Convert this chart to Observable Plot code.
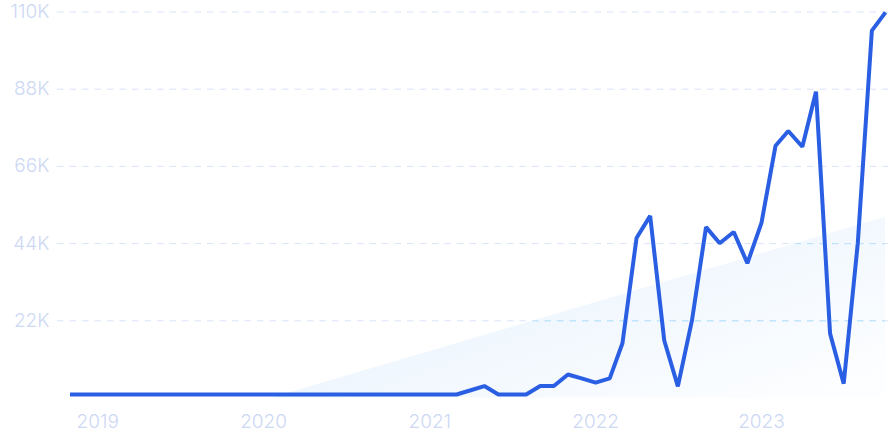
<!DOCTYPE html>
<html>
<head>
<meta charset="utf-8">
<script src="https://cdn.jsdelivr.net/npm/d3@7"></script>
<script src="https://cdn.jsdelivr.net/npm/@observablehq/plot@0.6"></script>
<style>
html,body{margin:0;padding:0;background:#fff;overflow:hidden}
svg{display:block;font-family:Inter,sans-serif}
svg text{font-weight:300;font-variant-numeric:proportional-nums;font-feature-settings:"pnum" 1,"tnum" 0}
</style>
</head>
<body>
<div id="chart"></div>
<script>
// Monthly values, Nov 2018 to Oct 2023
const startMonth = new Date(Date.UTC(2018, 10, 1));
const values = [
  1000,1000,1000,1000,1000,1000,1000,1000,1000,1000,
  1000,1000,1000,1000,1000,1000,1000,1000,1000,1000,
  1000,1000,1000,1000,1000,1000,1000,1000,1000,2200,
  3400,1000,1000,1000,3400,3400,6700,5600,4400,5600,
  15600,45600,51900,16400,3300,22100,48700,44100,47300,38400,
  49900,71900,76100,71600,87300,18400,4100,44100,104700,109900
];
const yTicks = [22000,44000,66000,88000,110000];
const yearTicks = [2019,2020,2021,2022,2023];
const trendDates = ["2020-01-20","2023-10-01"];
const trendValues = [0,51500];

const months = values.map((_, i) => d3.utcMonth.offset(startMonth, i));
const series = values.map((v, i) => ({date: months[i], value: v}));
const trend = trendDates.map((d, i) => ({date: new Date(d), value: trendValues[i]}));

const labelColor = "#cdd8f4";
const gridColor = "#d9e3fa";
const gridInArea = "#b4e4fc";
const dash = "6.5,6";

const defs = () => {
  const d = d3.create("svg:defs");
  const g = d.append("linearGradient").attr("id","trendFill")
    .attr("x1","0").attr("y1","0.1").attr("x2","1").attr("y2","0.9");
  g.append("stop").attr("offset","0").attr("stop-color","#e4effb");
  g.append("stop").attr("offset","0.55").attr("stop-color","#f2f8fe");
  g.append("stop").attr("offset","1").attr("stop-color","#fdfeff");
  d.append("clipPath").attr("id","trendClip").append("path");
  return d.node();
};

const chart = Plot.plot({
  width: 888,
  height: 443,
  marginLeft: 57,
  marginRight: 0,
  marginTop: 0,
  marginBottom: 45,
  x: {type:"utc", domain:[months[0], months[months.length-1]], range:[69.5,885]},
  y: {domain:[0,110000], range:[397.5,11.5]},
  marks: [
    defs,
    Plot.areaY(trend, {x:"date", y:"value", fill:"url(#trendFill)", className:"trend-area"}),
    Plot.ruleY(yTicks, {stroke:gridColor, strokeWidth:1, strokeDasharray:dash}),
    Plot.ruleY(yTicks, {stroke:gridInArea, strokeWidth:1, strokeDasharray:dash, className:"grid-in"}),
    Plot.lineY(series, {x:"date", y:"value", stroke:"#2b5fe3", strokeWidth:4, strokeLinejoin:"miter", strokeLinecap:"butt"}),
    Plot.axisY(yTicks, {anchor:"left", tickSize:0, tickPadding:8, fontSize:19, fill:labelColor, tickFormat:d=>d/1000+"K", label:null}),
    Plot.axisX(yearTicks.map(y=>new Date(Date.UTC(y,0,1))), {anchor:"bottom", tickSize:0, tickPadding:16, fontSize:19, fill:labelColor, tickFormat:d=>String(d.getUTCFullYear()), label:null})
  ]
});
document.getElementById("chart").appendChild(chart);
// The tinted part of the grid follows the trend area's own shape
const areaPath = chart.querySelector(".trend-area path");
chart.querySelector("#trendClip path").setAttribute("d", areaPath.getAttribute("d"));
chart.querySelector(".grid-in").setAttribute("clip-path","url(#trendClip)");
</script>
</body>
</html>
